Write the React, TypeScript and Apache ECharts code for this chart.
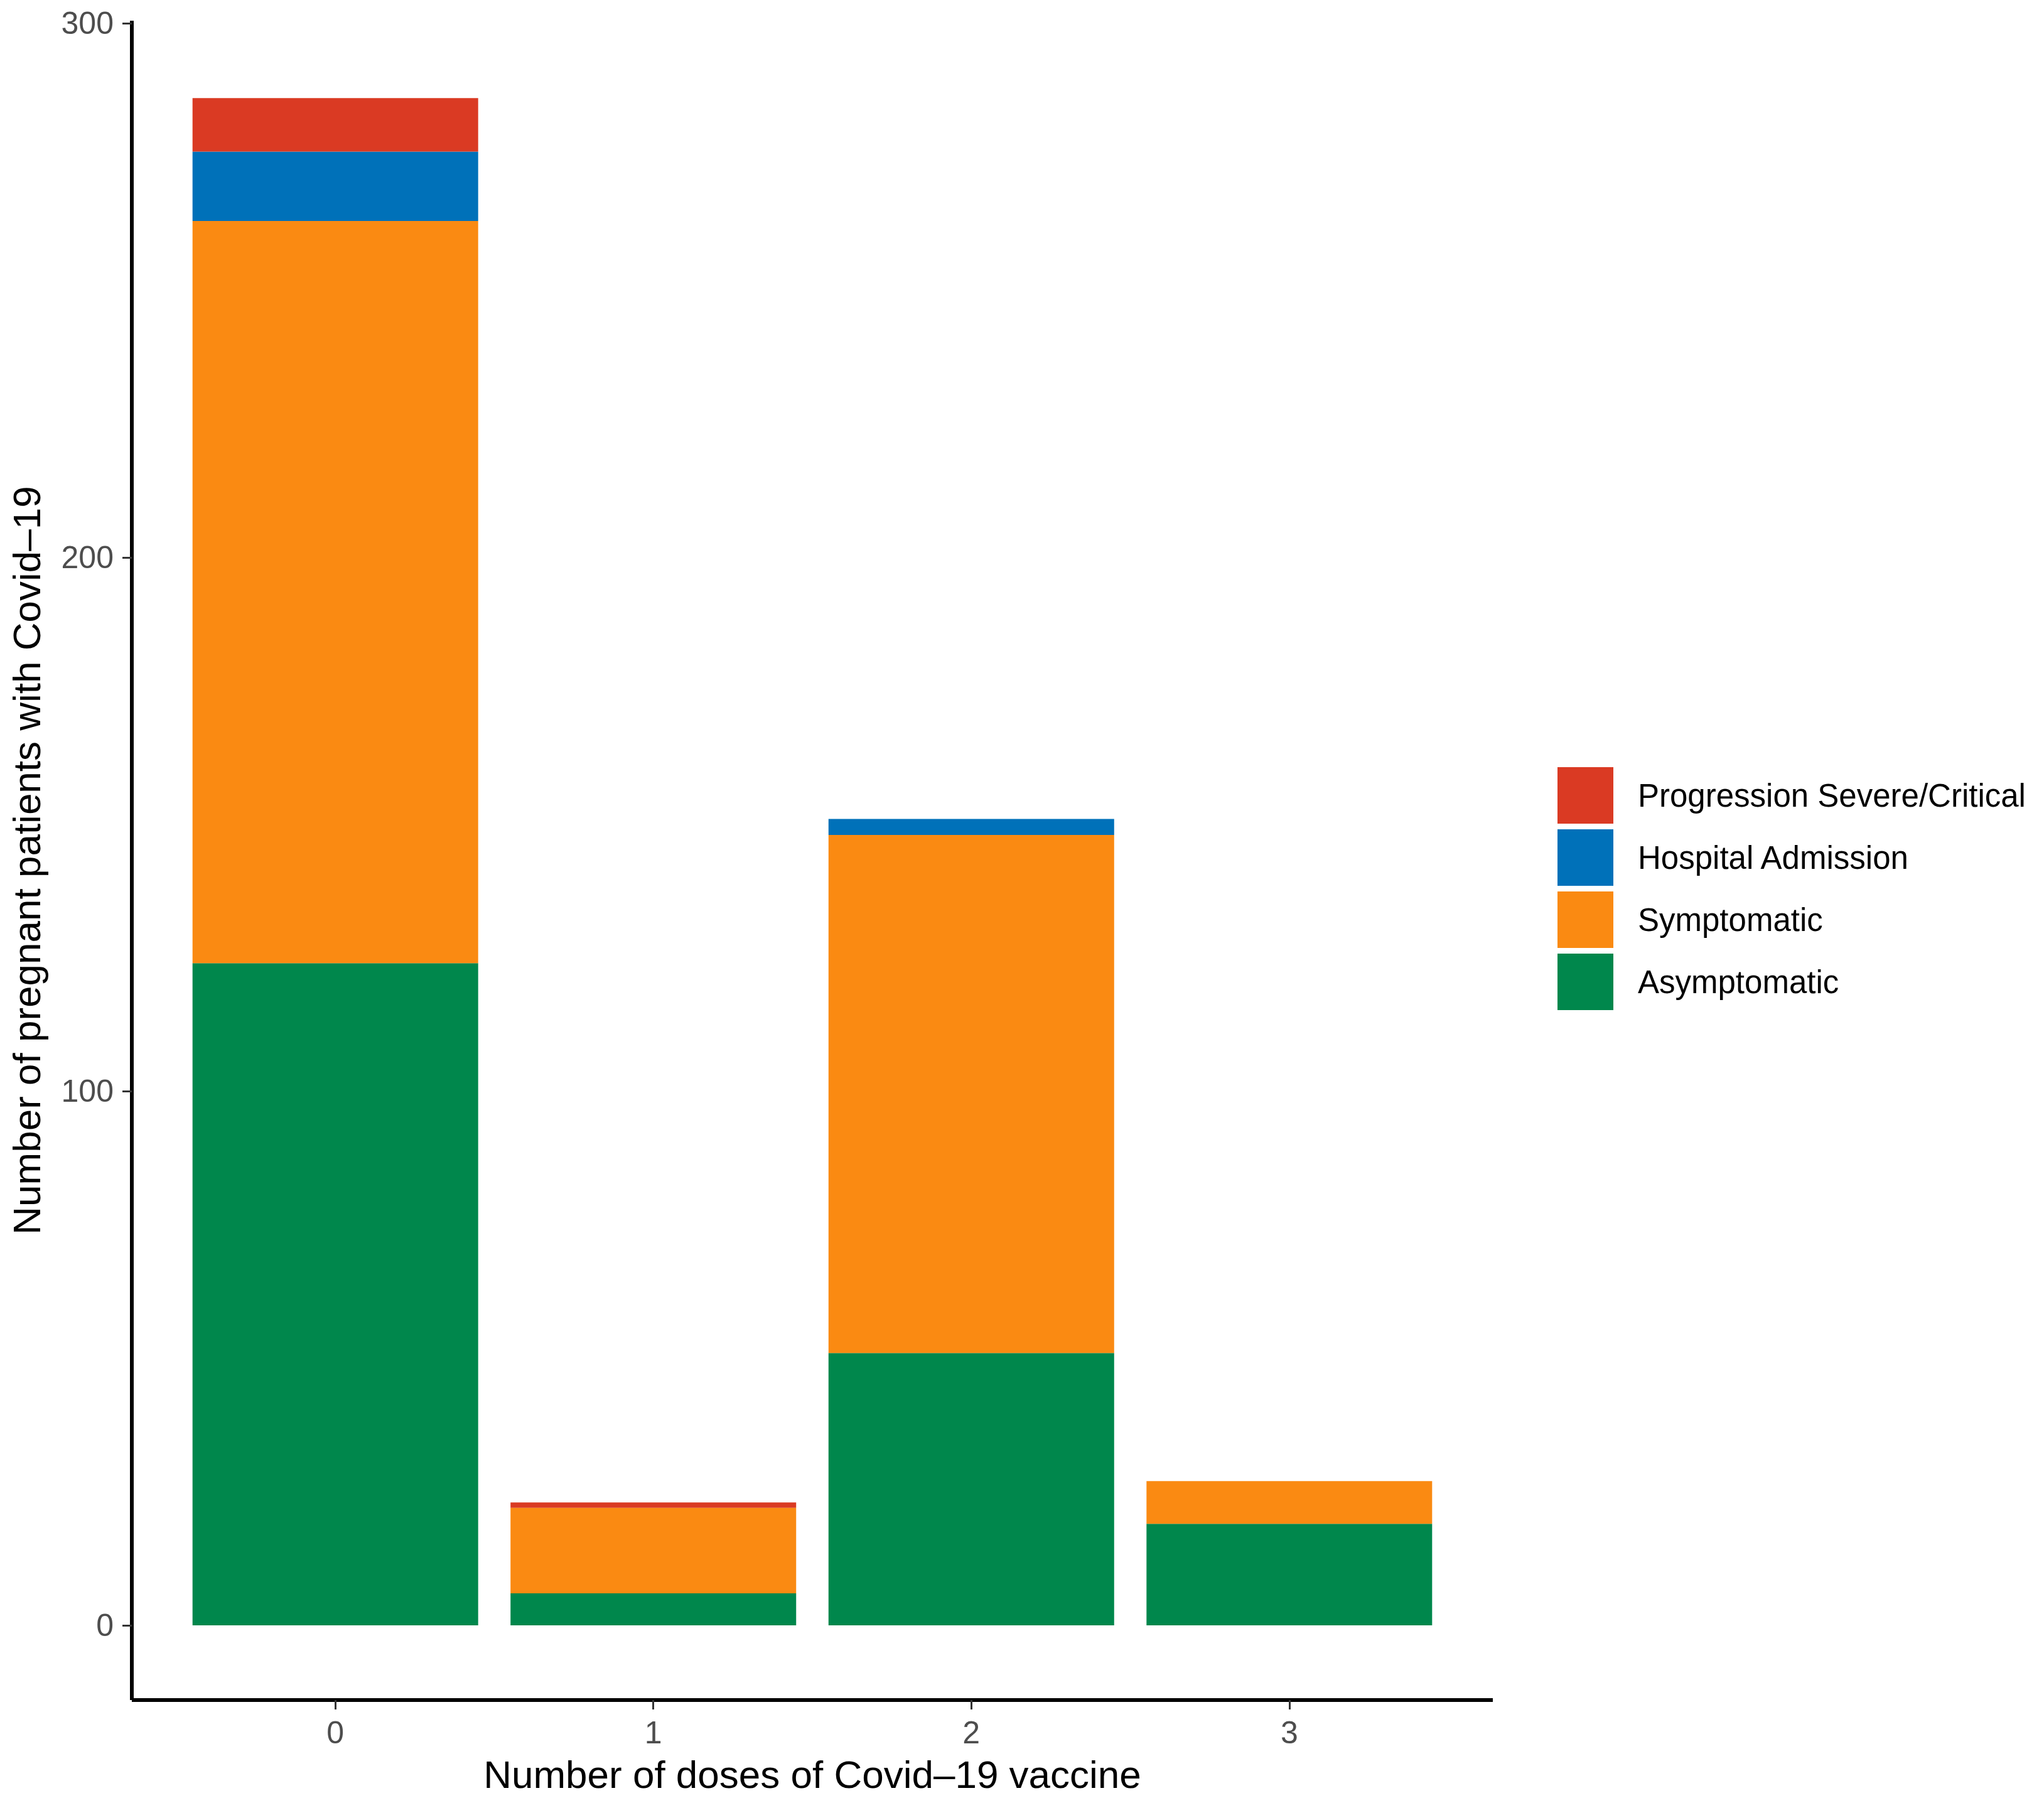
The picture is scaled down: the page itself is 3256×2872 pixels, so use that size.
import React, { useEffect, useRef } from "react";
import * as echarts from "echarts";

const doses = [0, 1, 2, 3];
const asymptomatic = [124, 6, 51, 19];
const symptomatic = [139, 16, 97, 8];
const hospitalAdmission = [13, 0, 3, 0];
const progressionSevere = [10, 1, 0, 0];
const yTicks = [0, 100, 200, 300];
const seriesNames = ["Asymptomatic", "Symptomatic", "Hospital Admission", "Progression Severe/Critical"];
const seriesColors = ["#00874C", "#FA8A12", "#0071B9", "#DA3A23"];
const legendOrder = ["Progression Severe/Critical", "Hospital Admission", "Symptomatic", "Asymptomatic"];

const FONT = "'Liberation Sans', Arial, Helvetica, sans-serif";

export default function App() {
  const ref = useRef<HTMLDivElement>(null);
  useEffect(() => {
    if (!ref.current) return;
    const chart = echarts.init(ref.current, null, { renderer: "svg" });
    const values = [asymptomatic, symptomatic, hospitalAdmission, progressionSevere];
    const series = seriesNames.map((name, i) => ({
      name,
      type: "bar",
      stack: "total",
      barWidth: 455,
      itemStyle: { color: seriesColors[i] },
      // value first so that the stack is computed on the count, not on the dose
      encode: { x: 1, y: 0 },
      data: doses.map((d, j) => [values[i][j], d]),
    }));
    chart.setOption({
      animation: false,
      backgroundColor: "#ffffff",
      textStyle: { fontFamily: FONT },
      grid: { left: 210, right: 878, top: 33, bottom: 164, containLabel: false, outerBoundsMode: "none" },
      legend: {
        data: legendOrder,
        orient: "vertical",
        left: 2481,
        top: 1222,
        padding: 0,
        icon: "rect",
        itemWidth: 89,
        itemHeight: 90,
        itemGap: 9,
        textStyle: { fontSize: 51, color: "#000000", fontFamily: FONT, padding: [0, 0, 0, 34] },
      },
      xAxis: {
        type: "value",
        min: -0.64,
        max: 3.64,
        name: "Number of doses of Covid\u201319 vaccine",
        nameLocation: "middle",
        nameGap: 87,
        nameTextStyle: { fontSize: 62, color: "#000000", fontFamily: FONT },
        axisLine: { show: true, onZero: false, lineStyle: { color: "#000000", width: 6, cap: "butt" } },
        axisTick: { show: true, length: 15, lineStyle: { color: "#333333", width: 3 }, customValues: doses },
        axisLabel: { fontSize: 50, color: "#4d4d4d", margin: 27, customValues: doses, formatter: (v: number) => String(v) },
        splitLine: { show: false },
      },
      yAxis: {
        type: "value",
        min: -14,
        max: 300.5,
        name: "Number of pregnant patients with Covid\u201319",
        nameLocation: "middle",
        nameGap: 137,
        nameTextStyle: { fontSize: 62, color: "#000000", fontFamily: FONT },
        axisLine: { show: true, onZero: false, lineStyle: { color: "#000000", width: 6, cap: "butt" } },
        axisTick: { show: true, length: 15, lineStyle: { color: "#333333", width: 3 }, customValues: yTicks },
        axisLabel: { fontSize: 50, color: "#4d4d4d", margin: 29, customValues: yTicks, formatter: (v: number) => String(v) },
        splitLine: { show: false },
      },
      series,
    });
    return () => chart.dispose();
  }, []);
  return (
    <div
      ref={ref}
      style={{ position: "fixed", left: 0, top: 0, width: 3256, height: 2872, background: "#ffffff" }}
    />
  );
}
